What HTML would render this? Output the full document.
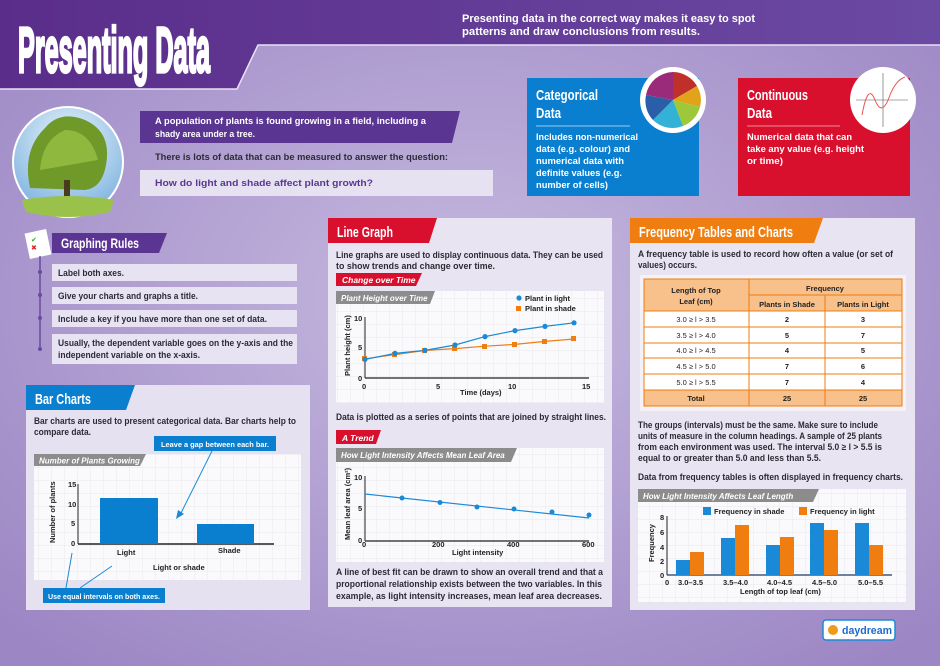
<!DOCTYPE html>
<html><head><meta charset="utf-8"><style>
html,body{margin:0;padding:0;width:940px;height:666px;overflow:hidden;background:#a794c9}
svg{display:block}
text{font-family:"Liberation Sans",sans-serif}
.n{font-family:"Liberation Sans Narrow","Liberation Sans",sans-serif;font-weight:bold}
.b{font-size:8.8px;font-weight:bold;fill:#2b2b35}
.s{font-size:7.5px;font-weight:bold;fill:#222}
.w{fill:#fff;font-weight:bold}
</style></head><body>
<svg width="940" height="666" viewBox="0 0 940 666" xmlns="http://www.w3.org/2000/svg">
<defs>
<radialGradient id="bg" cx="0.5" cy="0.45" r="0.7"><stop offset="0" stop-color="#c6b9df"/><stop offset="1" stop-color="#9c86c4"/></radialGradient>
<linearGradient id="ban" x1="0" x2="1"><stop offset="0" stop-color="#5a2d8a"/><stop offset="1" stop-color="#6b4aa3"/></linearGradient>
<radialGradient id="sky" cx=".5" cy=".3" r=".7"><stop offset="0" stop-color="#eaf4fc"/><stop offset="1" stop-color="#7fb3df"/></radialGradient>
<pattern id="grid" width="13" height="13" patternUnits="userSpaceOnUse"><path d="M13 0V13H0" fill="none" stroke="#e2e2ea" stroke-width=".7"/></pattern>
</defs>
<rect width="940" height="666" fill="url(#bg)"/>
<!-- banner -->
<polygon points="0,0 940,0 940,45 258,45 237,89 0,89" fill="url(#ban)"/>
<polyline points="0,89 237,89 258,45 940,45" fill="none" stroke="#e8e0f4" stroke-width="1.5"/>
<text x="18" y="72" class="n" font-size="64" font-weight="900" fill="#fff" stroke="#fff" stroke-width="3.2" textLength="192" lengthAdjust="spacingAndGlyphs">Presenting Data</text>
<text x="462" y="22" class="w" font-size="11" textLength="293" lengthAdjust="spacingAndGlyphs">Presenting data in the correct way makes it easy to spot</text>
<text x="462" y="35" class="w" font-size="11" textLength="238" lengthAdjust="spacingAndGlyphs">patterns and draw conclusions from results.</text>
<!-- tree -->
<circle cx="68" cy="162" r="55" fill="url(#sky)" stroke="#fff" stroke-width="2"/>
<path d="M30 188 Q22 150 45 128 Q60 110 85 120 Q112 132 106 165 Q102 188 85 190 Z" fill="#6f9a2a"/>
<path d="M40 170 Q42 140 65 130 Q90 130 98 160 Z" fill="#8fb83e"/>
<rect x="64" y="180" width="6" height="18" fill="#4a3a20"/>
<path d="M22 200 Q68 192 114 200 L110 212 Q68 222 26 212Z" fill="#9ac24a"/>
<polygon points="140,111 460,111 452,143 140,143" fill="#5b3592"/>
<text x="155" y="124" class="w" font-size="9" textLength="271" lengthAdjust="spacingAndGlyphs">A population of plants is found growing in a field, including a</text>
<text x="155" y="137" class="w" font-size="9" textLength="100" lengthAdjust="spacingAndGlyphs">shady area under a tree.</text>
<text x="155" y="160" class="b" textLength="293" lengthAdjust="spacingAndGlyphs">There is lots of data that can be measured to answer the question:</text>
<rect x="140" y="170" width="353" height="26" fill="#e7e2f1"/>
<text x="155" y="186" font-size="9.5" font-weight="bold" fill="#5b3592" textLength="218" lengthAdjust="spacingAndGlyphs">How do light and shade affect plant growth?</text>
<!-- categorical -->
<rect x="527" y="78" width="172" height="118" fill="#0a7fd0"/>
<text x="536" y="100" class="n" font-size="15" fill="#fff" textLength="62" lengthAdjust="spacingAndGlyphs">Categorical</text>
<text x="536" y="118" class="n" font-size="15" fill="#fff" textLength="25" lengthAdjust="spacingAndGlyphs">Data</text>
<line x1="536" y1="126" x2="630" y2="126" stroke="#9ccbf0"/>
<g class="w" font-size="9.5">
<text x="536" y="140" textLength="102" lengthAdjust="spacingAndGlyphs">Includes non-numerical</text>
<text x="536" y="152" textLength="94" lengthAdjust="spacingAndGlyphs">data (e.g. colour) and</text>
<text x="536" y="164" textLength="88" lengthAdjust="spacingAndGlyphs">numerical data with</text>
<text x="536" y="176" textLength="86" lengthAdjust="spacingAndGlyphs">definite values (e.g.</text>
<text x="536" y="188" textLength="72" lengthAdjust="spacingAndGlyphs">number of cells)</text>
</g>
<circle cx="673" cy="100" r="33" fill="#fff"/>
<g transform="translate(673,100)">
<path d="M0 0L0-28A28 28 0 0 1 24-14Z" fill="#c0302a"/>
<path d="M0 0L24-14A28 28 0 0 1 27 7Z" fill="#e0a31a"/>
<path d="M0 0L27 7A28 28 0 0 1 10 26Z" fill="#9cc83a"/>
<path d="M0 0L10 26A28 28 0 0 1-20 20Z" fill="#33b2d8"/>
<path d="M0 0L-20 20A28 28 0 0 1-27-5Z" fill="#2a5ea8"/>
<path d="M0 0L-27-5A28 28 0 0 1 0-28Z" fill="#9a2a7a"/>
</g>
<!-- continuous -->
<rect x="738" y="78" width="172" height="118" fill="#d8102e"/>
<text x="747" y="100" class="n" font-size="15" fill="#fff" textLength="61" lengthAdjust="spacingAndGlyphs">Continuous</text>
<text x="747" y="118" class="n" font-size="15" fill="#fff" textLength="25" lengthAdjust="spacingAndGlyphs">Data</text>
<line x1="747" y1="126" x2="840" y2="126" stroke="#f08a98"/>
<g class="w" font-size="9.5">
<text x="747" y="140" textLength="105" lengthAdjust="spacingAndGlyphs">Numerical data that can</text>
<text x="747" y="152" textLength="117" lengthAdjust="spacingAndGlyphs">take any value (e.g. height</text>
<text x="747" y="164" textLength="36" lengthAdjust="spacingAndGlyphs">or time)</text>
</g>
<circle cx="883" cy="100" r="33" fill="#fff"/>
<line x1="856" y1="100" x2="908" y2="100" stroke="#555" stroke-width=".6"/>
<line x1="883" y1="73" x2="883" y2="127" stroke="#555" stroke-width=".6"/>
<path d="M862 115 Q868 82 875 100 Q882 118 890 95 Q896 80 905 77" fill="none" stroke="#e55" stroke-width="1"/>
<!-- graphing rules -->
<rect x="27" y="231" width="22" height="26" fill="#fff" transform="rotate(-12 38 244)"/>
<text x="31" y="242" font-size="7" fill="#3a3">✔</text><text x="31" y="250" font-size="7" fill="#d22">✖</text>
<polygon points="52,233 167,233 159,253 52,253" fill="#5b3592"/>
<text x="61" y="248" class="n" font-size="14" fill="#fff" textLength="78" lengthAdjust="spacingAndGlyphs">Graphing Rules</text>
<line x1="40" y1="256" x2="40" y2="349" stroke="#6a4aa0" stroke-width="1.5"/>
<g fill="#6a4aa0"><circle cx="40" cy="272" r="2"/><circle cx="40" cy="295" r="2"/><circle cx="40" cy="318" r="2"/><circle cx="40" cy="349" r="2"/></g>
<g fill="#e8e3f2"><rect x="52" y="264" width="245" height="17"/><rect x="52" y="287" width="245" height="17"/><rect x="52" y="310" width="245" height="17"/><rect x="52" y="334" width="245" height="30"/></g>
<text x="58" y="276" class="b" textLength="66" lengthAdjust="spacingAndGlyphs">Label both axes.</text>
<text x="58" y="299" class="b" textLength="140" lengthAdjust="spacingAndGlyphs">Give your charts and graphs a title.</text>
<text x="58" y="322" class="b" textLength="209" lengthAdjust="spacingAndGlyphs">Include a key if you have more than one set of data.</text>
<text x="58" y="346" class="b" textLength="235" lengthAdjust="spacingAndGlyphs">Usually, the dependent variable goes on the y-axis and the</text>
<text x="58" y="358" class="b" textLength="142" lengthAdjust="spacingAndGlyphs">independent variable on the x-axis.</text>
<!-- bar charts panel -->
<rect x="26" y="385" width="284" height="225" fill="#e6e1f0"/>
<polygon points="26,385 135,385 126,410 26,410" fill="#0a7fd0"/>
<text x="35" y="404" class="n" font-size="15" fill="#fff" textLength="56" lengthAdjust="spacingAndGlyphs">Bar Charts</text>
<text x="34" y="424" class="b" textLength="262" lengthAdjust="spacingAndGlyphs">Bar charts are used to present categorical data. Bar charts help to</text>
<text x="34" y="435" class="b" textLength="57" lengthAdjust="spacingAndGlyphs">compare data.</text>
<rect x="34" y="454" width="267" height="126" fill="#fafafc"/>
<rect x="34" y="454" width="267" height="126" fill="url(#grid)"/>
<polygon points="34,454 146,454 140,466 34,466" fill="#8c8c8c"/>
<text x="39" y="463.5" font-size="8" font-style="italic" font-weight="bold" fill="#fff">Number of Plants Growing</text>
<rect x="154" y="436" width="122" height="15" fill="#0a7fd0"/>
<text x="161" y="447" class="w" font-size="7.5" textLength="108" lengthAdjust="spacingAndGlyphs">Leave a gap between each bar.</text>
<line x1="212" y1="451" x2="180" y2="515" stroke="#1a8ad8"/>
<polygon points="176,519 178,510 184,514" fill="#1a8ad8"/>
<line x1="78" y1="484" x2="78" y2="544" stroke="#222"/>
<line x1="78" y1="544" x2="274" y2="544" stroke="#222" stroke-width="1.5"/>
<g class="s"><text x="68" y="487">15</text><text x="68" y="507">10</text><text x="71" y="526">5</text><text x="71" y="546">0</text></g>
<rect x="100" y="498" width="58" height="46" fill="#0a7fd0"/>
<rect x="197" y="524" width="57" height="20" fill="#0a7fd0"/>
<text x="117" y="555" class="s">Light</text><text x="218" y="553" class="s">Shade</text>
<text x="153" y="570" class="s">Light or shade</text>
<text transform="translate(55,543) rotate(-90)" class="s">Number of plants</text>
<rect x="43" y="588" width="122" height="15" fill="#0a7fd0"/>
<text x="48" y="599" class="w" font-size="7.5" textLength="112" lengthAdjust="spacingAndGlyphs">Use equal intervals on both axes.</text>
<line x1="66" y1="588" x2="72" y2="553" stroke="#1a8ad8"/><line x1="80" y1="588" x2="112" y2="566" stroke="#1a8ad8"/>
<!-- line graph panel -->
<rect x="328" y="218" width="284" height="389" fill="#e8e4f1"/>
<polygon points="328,218 437,218 429,243 328,243" fill="#d8102e"/>
<text x="337" y="237" class="n" font-size="15" fill="#fff" textLength="56" lengthAdjust="spacingAndGlyphs">Line Graph</text>
<text x="336" y="258" class="b" textLength="267" lengthAdjust="spacingAndGlyphs">Line graphs are used to display continuous data. They can be used</text>
<text x="336" y="269" class="b" textLength="159" lengthAdjust="spacingAndGlyphs">to show trends and change over time.</text>
<polygon points="336,273 422,273 416,286 336,286" fill="#d8102e"/>
<text x="342" y="283" class="w" font-size="8.5" font-style="italic">Change over Time</text>
<rect x="336" y="291" width="268" height="112" fill="#fafafc"/><rect x="336" y="291" width="268" height="112" fill="url(#grid)"/>
<polygon points="336,291 435,291 430,304 336,304" fill="#8c8c8c"/>
<text x="341" y="301" font-size="8" font-style="italic" font-weight="bold" fill="#fff">Plant Height over Time</text>
<line x1="365" y1="317" x2="365" y2="378" stroke="#222"/><line x1="365" y1="378" x2="589" y2="378" stroke="#222" stroke-width="1.3"/>
<g class="s"><text x="354" y="321">10</text><text x="358" y="350">5</text><text x="358" y="381">0</text><text x="362" y="389">0</text><text x="436" y="389">5</text><text x="508" y="389">10</text><text x="582" y="389">15</text></g>
<text x="460" y="395" class="s">Time (days)</text>
<text transform="translate(350,376) rotate(-90)" class="s" font-size="7">Plant height (cm)</text>
<polyline points="365,358.8 395,354.6 425,350.4 455,348.6 485,346.2 515,344.4 545,341.4 574,339" fill="none" stroke="#ef7d0f" stroke-width="1.2"/>
<polyline points="365,359.4 395,353.4 425,350.4 455,345 485,336.6 515,330.6 545,326.4 574,322.8" fill="none" stroke="#1a8ad8" stroke-width="1.2"/>
<g fill="#ef7d0f"><rect x="362" y="356" width="5" height="5"/><rect x="392" y="352" width="5" height="5"/><rect x="422" y="348" width="5" height="5"/><rect x="452" y="346" width="5" height="5"/><rect x="482" y="344" width="5" height="5"/><rect x="512" y="342" width="5" height="5"/><rect x="542" y="339" width="5" height="5"/><rect x="571" y="336" width="5" height="5"/></g>
<g fill="#1a8ad8"><circle cx="365" cy="359.4" r="2.6"/><circle cx="395" cy="353.4" r="2.6"/><circle cx="425" cy="350.4" r="2.6"/><circle cx="455" cy="345" r="2.6"/><circle cx="485" cy="336.6" r="2.6"/><circle cx="515" cy="330.6" r="2.6"/><circle cx="545" cy="326.4" r="2.6"/><circle cx="574" cy="322.8" r="2.6"/></g>
<circle cx="519" cy="298" r="2.6" fill="#1a8ad8"/><text x="525" y="301" class="s">Plant in light</text>
<rect x="516" y="306" width="5" height="5" fill="#ef7d0f"/><text x="525" y="311" class="s">Plant in shade</text>
<text x="336" y="420" class="b" textLength="270" lengthAdjust="spacingAndGlyphs">Data is plotted as a series of points that are joined by straight lines.</text>
<polygon points="336,430 381,430 376,444 336,444" fill="#d8102e"/>
<text x="342" y="441" class="w" font-size="8.5" font-style="italic">A Trend</text>
<rect x="336" y="448" width="268" height="114" fill="#fafafc"/><rect x="336" y="448" width="268" height="114" fill="url(#grid)"/>
<polygon points="336,448 517,448 511,462 336,462" fill="#8c8c8c"/>
<text x="341" y="458" font-size="8" font-style="italic" font-weight="bold" fill="#fff">How Light Intensity Affects Mean Leaf Area</text>
<line x1="365" y1="476" x2="365" y2="541" stroke="#222"/><line x1="365" y1="541" x2="589" y2="541" stroke="#222" stroke-width="1.3"/>
<g class="s"><text x="354" y="480">10</text><text x="358" y="511">5</text><text x="358" y="543">0</text><text x="362" y="547">0</text><text x="432" y="547">200</text><text x="507" y="547">400</text><text x="582" y="547">600</text></g>
<text x="452" y="555" class="s">Light intensity</text>
<text transform="translate(350,540) rotate(-90)" class="s" font-size="7">Mean leaf area (cm²)</text>
<line x1="365" y1="494" x2="589" y2="518" stroke="#1a8ad8" stroke-width="1.2"/>
<g fill="#1a8ad8"><circle cx="402" cy="498" r="2.5"/><circle cx="440" cy="502.5" r="2.5"/><circle cx="477" cy="507" r="2.5"/><circle cx="514" cy="509" r="2.5"/><circle cx="552" cy="512" r="2.5"/><circle cx="589" cy="515" r="2.5"/></g>
<text x="336" y="575" class="b" textLength="267" lengthAdjust="spacingAndGlyphs">A line of best fit can be drawn to show an overall trend and that a</text>
<text x="336" y="587" class="b" textLength="266" lengthAdjust="spacingAndGlyphs">proportional relationship exists between the two variables. In this</text>
<text x="336" y="599" class="b" textLength="266" lengthAdjust="spacingAndGlyphs">example, as light intensity increases, mean leaf area decreases.</text>
<!-- frequency panel -->
<rect x="630" y="218" width="285" height="392" fill="#e8e4f1"/>
<polygon points="630,218 823,218 814,243 630,243" fill="#ef7d0f"/>
<text x="639" y="237" class="n" font-size="15" fill="#fff" textLength="154" lengthAdjust="spacingAndGlyphs">Frequency Tables and Charts</text>
<text x="638" y="257" class="b" textLength="255" lengthAdjust="spacingAndGlyphs">A frequency table is used to record how often a value (or set of</text>
<text x="638" y="268" class="b" textLength="59" lengthAdjust="spacingAndGlyphs">values) occurs.</text>
<rect x="640" y="275" width="266" height="136" fill="#f4f2f8"/>
<g stroke="#ef7d0f" stroke-width="1">
<rect x="644" y="279" width="258" height="32" fill="#f8c08a"/>
<rect x="644" y="311" width="258" height="79" fill="#fff"/>
<rect x="644" y="390" width="258" height="16" fill="#f8c08a"/>
<line x1="644" y1="327" x2="902" y2="327"/><line x1="644" y1="343" x2="902" y2="343"/><line x1="644" y1="358" x2="902" y2="358"/><line x1="644" y1="374" x2="902" y2="374"/>
<line x1="749" y1="295" x2="902" y2="295"/>
<line x1="749" y1="279" x2="749" y2="406"/><line x1="825" y1="295" x2="825" y2="406"/>
</g>
<g class="s" font-size="8.3" text-anchor="middle">
<text x="696" y="293">Length of Top</text><text x="696" y="304">Leaf (cm)</text>
<text x="825" y="291">Frequency</text><text x="787" y="307">Plants in Shade</text><text x="863" y="307">Plants in Light</text>
<text x="696" y="322" font-weight="normal">3.0 ≥ l &gt; 3.5</text><text x="787" y="322">2</text><text x="863" y="322">3</text>
<text x="696" y="338" font-weight="normal">3.5 ≥ l &gt; 4.0</text><text x="787" y="338">5</text><text x="863" y="338">7</text>
<text x="696" y="353" font-weight="normal">4.0 ≥ l &gt; 4.5</text><text x="787" y="353">4</text><text x="863" y="353">5</text>
<text x="696" y="369" font-weight="normal">4.5 ≥ l &gt; 5.0</text><text x="787" y="369">7</text><text x="863" y="369">6</text>
<text x="696" y="385" font-weight="normal">5.0 ≥ l &gt; 5.5</text><text x="787" y="385">7</text><text x="863" y="385">4</text>
<text x="696" y="401">Total</text><text x="787" y="401">25</text><text x="863" y="401">25</text>
</g>
<text x="638" y="428" class="b" textLength="240" lengthAdjust="spacingAndGlyphs">The groups (intervals) must be the same. Make sure to include</text>
<text x="638" y="439" class="b" textLength="244" lengthAdjust="spacingAndGlyphs">units of measure in the column headings. A sample of 25 plants</text>
<text x="638" y="450" class="b" textLength="244" lengthAdjust="spacingAndGlyphs">from each environment was used. The interval 5.0 ≥ l &gt; 5.5 is</text>
<text x="638" y="461" class="b" textLength="183" lengthAdjust="spacingAndGlyphs">equal to or greater than 5.0 and less than 5.5.</text>
<text x="638" y="480" class="b" textLength="265" lengthAdjust="spacingAndGlyphs">Data from frequency tables is often displayed in frequency charts.</text>
<rect x="638" y="489" width="268" height="113" fill="#fafafc"/><rect x="638" y="489" width="268" height="113" fill="url(#grid)"/>
<polygon points="638,489 819,489 813,502 638,502" fill="#8c8c8c"/>
<text x="643" y="499" font-size="8" font-style="italic" font-weight="bold" fill="#fff">How Light Intensity Affects Leaf Length</text>
<rect x="703" y="507" width="8" height="8" fill="#1a8ad8"/><text x="714" y="514" class="s">Frequency in shade</text>
<rect x="799" y="507" width="8" height="8" fill="#ef7d0f"/><text x="810" y="514" class="s">Frequency in light</text>
<line x1="667" y1="516" x2="667" y2="575" stroke="#222"/><line x1="667" y1="575" x2="892" y2="575" stroke="#1a3a6a" stroke-width="1.3"/>
<g class="s"><text x="660" y="520">8</text><text x="660" y="535">6</text><text x="660" y="550">4</text><text x="660" y="564">2</text><text x="660" y="578">0</text><text x="665" y="585">0</text>
<text x="678" y="585">3.0–3.5</text><text x="723" y="585">3.5–4.0</text><text x="767" y="585">4.0–4.5</text><text x="812" y="585">4.5–5.0</text><text x="858" y="585">5.0–5.5</text></g>
<text x="740" y="594" class="s">Length of top leaf (cm)</text>
<text transform="translate(654,562) rotate(-90)" class="s" font-size="7">Frequency</text>
<g fill="#1a8ad8"><rect x="676" y="560" width="14" height="15"/><rect x="721" y="538" width="14" height="37"/><rect x="766" y="545" width="14" height="30"/><rect x="810" y="523" width="14" height="52"/><rect x="855" y="523" width="14" height="52"/></g>
<g fill="#ef7d0f"><rect x="690" y="552" width="14" height="23"/><rect x="735" y="525" width="14" height="50"/><rect x="780" y="537" width="14" height="38"/><rect x="824" y="530" width="14" height="45"/><rect x="869" y="545" width="14" height="30"/></g>
<!-- logo -->
<rect x="823" y="620" width="72" height="20" rx="3" fill="#fff" stroke="#1a8ad8" stroke-width="1.5"/>
<text x="842" y="634" font-size="11" font-weight="bold" fill="#1a6ad0" textLength="50" lengthAdjust="spacingAndGlyphs">daydream</text>
<circle cx="833" cy="630" r="5" fill="#ef9a1a"/>
</svg>
</body></html>
